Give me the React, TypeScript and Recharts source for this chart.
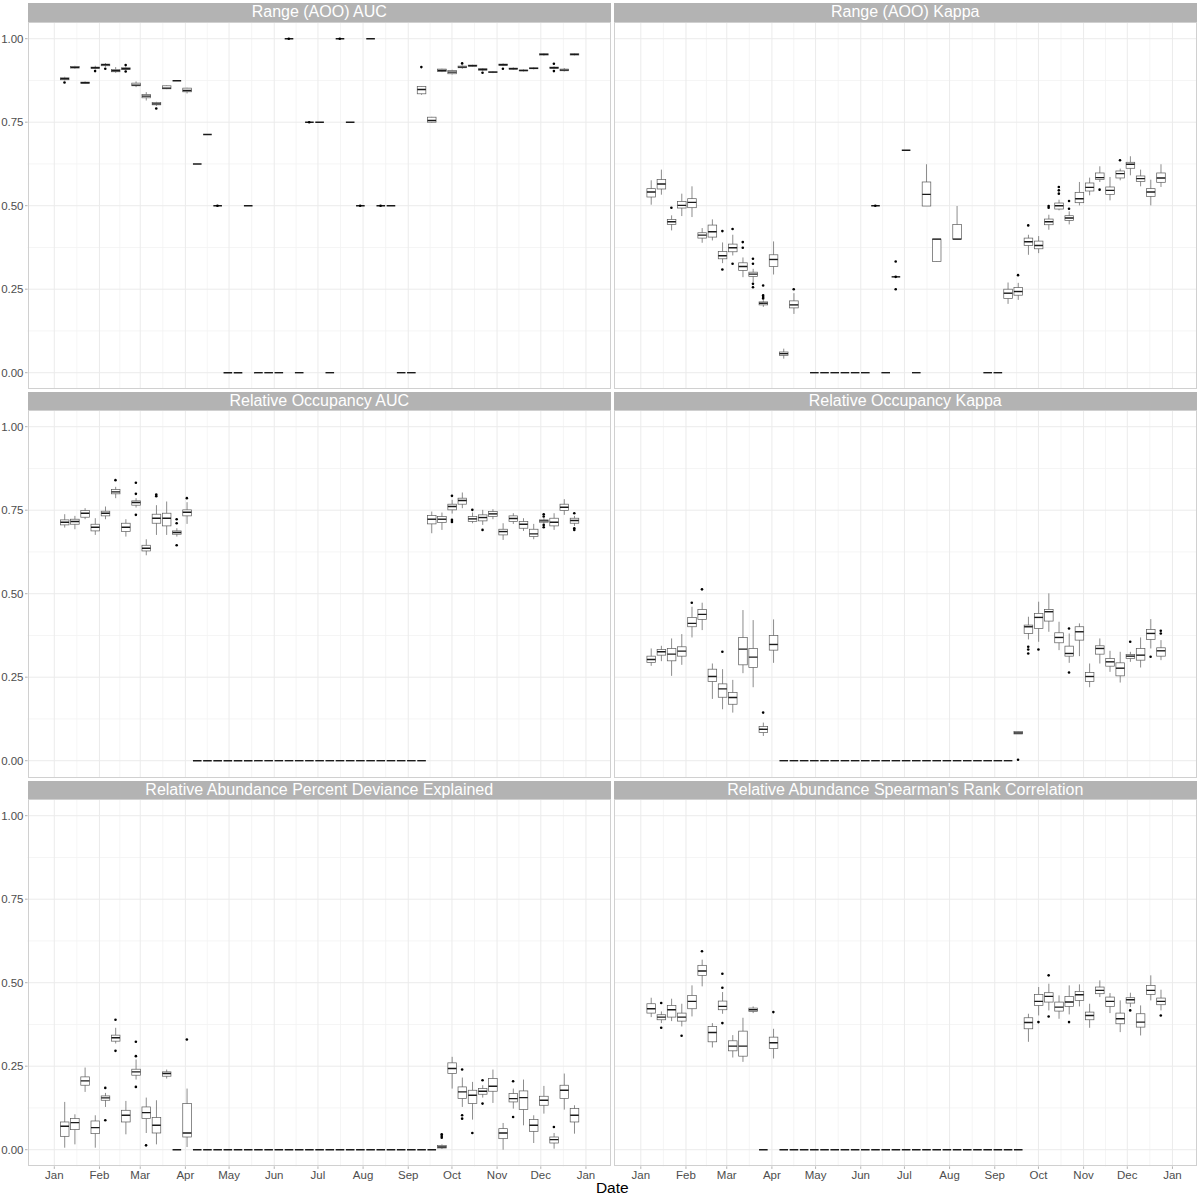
import React from 'react';
import { ComposedChart, Bar, Scatter, XAxis, YAxis, CartesianGrid } from 'recharts';

type Box = [number, number, number, number, number] | null;

// weekly model dates
const WEEKS = [
  '2021-01-08', '2021-01-15', '2021-01-22', '2021-01-29',
  '2021-02-05', '2021-02-12', '2021-02-19', '2021-02-26',
  '2021-03-05', '2021-03-12', '2021-03-19', '2021-03-26',
  '2021-04-02', '2021-04-09', '2021-04-16', '2021-04-23', '2021-04-30',
  '2021-05-07', '2021-05-14', '2021-05-21', '2021-05-28',
  '2021-06-04', '2021-06-11', '2021-06-18', '2021-06-25',
  '2021-07-02', '2021-07-09', '2021-07-16', '2021-07-23', '2021-07-30',
  '2021-08-06', '2021-08-13', '2021-08-20', '2021-08-27',
  '2021-09-03', '2021-09-10', '2021-09-17', '2021-09-24',
  '2021-10-01', '2021-10-08', '2021-10-15', '2021-10-22', '2021-10-29',
  '2021-11-05', '2021-11-12', '2021-11-19', '2021-11-26',
  '2021-12-03', '2021-12-10', '2021-12-17', '2021-12-24',
];

const MONTH_STARTS = [
  '2021-01-01', '2021-02-01', '2021-03-01', '2021-04-01', '2021-05-01', '2021-06-01', '2021-07-01',
  '2021-08-01', '2021-09-01', '2021-10-01', '2021-11-01', '2021-12-01', '2022-01-01',
];
const MONTH_LABELS = ['Jan', 'Feb', 'Mar', 'Apr', 'May', 'Jun', 'Jul', 'Aug', 'Sep', 'Oct', 'Nov', 'Dec', 'Jan'];

const Y_TICKS = [0, 0.25, 0.5, 0.75, 1];
const Y_MINOR = [0.125, 0.375, 0.625, 0.875];

const PANEL_TITLES = [
  'Range (AOO) AUC',
  'Range (AOO) Kappa',
  'Relative Occupancy AUC',
  'Relative Occupancy Kappa',
  'Relative Abundance Percent Deviance Explained',
  "Relative Abundance Spearman's Rank Correlation",
];

const Z: Box = [0, 0, 0, 0, 0];

// [min, q1, median, q3, max] per week
const rangeAucBoxes: Box[] = [
  [0.875, 0.877, 0.880, 0.883, 0.886], [0.910, 0.912, 0.914, 0.917, 0.919], [0.865, 0.866, 0.868, 0.870, 0.872],
  [0.908, 0.911, 0.913, 0.915, 0.919], [0.916, 0.919, 0.922, 0.924, 0.927], [0.898, 0.901, 0.904, 0.908, 0.915],
  [0.905, 0.908, 0.910, 0.913, 0.916], [0.855, 0.859, 0.861, 0.867, 0.872], [0.815, 0.823, 0.828, 0.833, 0.840],
  [0.799, 0.802, 0.805, 0.809, 0.811], [0.849, 0.850, 0.852, 0.859, 0.860], [0.874, 0.874, 0.874, 0.874, 0.874],
  [0.836, 0.841, 0.845, 0.852, 0.853], [0.625, 0.625, 0.625, 0.625, 0.625], [0.713, 0.713, 0.713, 0.713, 0.713],
  [0.5, 0.5, 0.5, 0.5, 0.5], Z, Z, [0.5, 0.5, 0.5, 0.5, 0.5], Z, Z, Z, [1, 1, 1, 1, 1], Z,
  [0.75, 0.75, 0.75, 0.75, 0.75], [0.75, 0.75, 0.75, 0.75, 0.75], Z, [1, 1, 1, 1, 1],
  [0.75, 0.75, 0.75, 0.75, 0.75], [0.5, 0.5, 0.5, 0.5, 0.5], [1, 1, 1, 1, 1], [0.5, 0.5, 0.5, 0.5, 0.5],
  [0.5, 0.5, 0.5, 0.5, 0.5], Z, Z,
  [0.832, 0.835, 0.848, 0.857, 0.857], [0.749, 0.750, 0.755, 0.765, 0.766], [0.900, 0.902, 0.905, 0.909, 0.910],
  [0.893, 0.895, 0.900, 0.905, 0.907], [0.910, 0.913, 0.915, 0.918, 0.920], [0.917, 0.918, 0.919, 0.921, 0.922],
  [0.903, 0.906, 0.908, 0.910, 0.912], [0.897, 0.899, 0.900, 0.901, 0.903], [0.919, 0.920, 0.922, 0.924, 0.926],
  [0.907, 0.909, 0.910, 0.912, 0.914], [0.902, 0.904, 0.905, 0.906, 0.908], [0.908, 0.910, 0.911, 0.913, 0.915],
  [0.949, 0.951, 0.953, 0.955, 0.957], [0.909, 0.911, 0.913, 0.915, 0.917], [0.902, 0.904, 0.906, 0.909, 0.912],
  [0.950, 0.951, 0.953, 0.955, 0.956],
];
const rangeAucOutliers: [number, number][] = [
  [0, 0.869], [3, 0.903], [4, 0.910], [6, 0.921], [6, 0.902], [9, 0.791], [15, 0.5], [22, 1], [24, 0.75],
  [27, 1], [29, 0.5], [31, 0.5], [35, 0.915], [39, 0.926], [41, 0.898], [43, 0.910], [48, 0.925], [48, 0.903],
];

const rangeKappaBoxes: Box[] = [
  [0.503, 0.526, 0.541, 0.551, 0.576], [0.533, 0.550, 0.565, 0.578, 0.608], [0.426, 0.444, 0.452, 0.459, 0.471],
  [0.469, 0.493, 0.501, 0.513, 0.536], [0.466, 0.494, 0.510, 0.521, 0.558], [0.389, 0.403, 0.412, 0.419, 0.433],
  [0.396, 0.406, 0.422, 0.442, 0.459], [0.328, 0.341, 0.350, 0.363, 0.390], [0.351, 0.362, 0.374, 0.385, 0.413],
  [0.286, 0.306, 0.318, 0.329, 0.345], [0.271, 0.288, 0.295, 0.301, 0.311], [0.197, 0.203, 0.208, 0.212, 0.217],
  [0.294, 0.318, 0.339, 0.353, 0.393], [0.042, 0.052, 0.057, 0.062, 0.072], [0.176, 0.194, 0.203, 0.215, 0.238],
  null, Z, Z, Z, Z, Z, Z, [0.5, 0.5, 0.5, 0.5, 0.5], Z, [0.287, 0.287, 0.287, 0.287, 0.287],
  [0.666, 0.666, 0.666, 0.666, 0.666], Z, [0.499, 0.499, 0.534, 0.571, 0.624], [0.333, 0.333, 0.400, 0.400, 0.400],
  null, [0.400, 0.400, 0.400, 0.444, 0.499], null, null, Z, Z,
  [0.206, 0.222, 0.238, 0.250, 0.270], [0.218, 0.232, 0.243, 0.255, 0.269], [0.353, 0.381, 0.392, 0.403, 0.413],
  [0.358, 0.371, 0.381, 0.394, 0.409], [0.428, 0.443, 0.452, 0.460, 0.473], [0.486, 0.490, 0.500, 0.508, 0.518],
  [0.444, 0.456, 0.463, 0.470, 0.483], [0.501, 0.509, 0.521, 0.540, 0.571], [0.531, 0.544, 0.555, 0.568, 0.584],
  [0.571, 0.578, 0.584, 0.598, 0.618], [0.516, 0.534, 0.546, 0.556, 0.586], [0.576, 0.583, 0.596, 0.604, 0.611],
  [0.591, 0.612, 0.624, 0.630, 0.648], [0.558, 0.572, 0.581, 0.589, 0.608], [0.501, 0.528, 0.541, 0.551, 0.578],
  [0.556, 0.570, 0.583, 0.598, 0.624],
];
const rangeKappaOutliers: [number, number][] = [
  [2, 0.494], [7, 0.424], [7, 0.309], [8, 0.430], [8, 0.326], [9, 0.391], [9, 0.374],
  [10, 0.341], [10, 0.326], [10, 0.266], [10, 0.256], [11, 0.261], [11, 0.232], [11, 0.227], [11, 0.222],
  [14, 0.250], [22, 0.5], [24, 0.333], [24, 0.250], [24, 0.287], [36, 0.292], [37, 0.441], [39, 0.499], [39, 0.494],
  [40, 0.556], [40, 0.546], [40, 0.536], [41, 0.514], [41, 0.491], [44, 0.548], [46, 0.636],
];

const occAucBoxes: Box[] = [
  [0.698, 0.706, 0.714, 0.721, 0.738], [0.693, 0.708, 0.716, 0.723, 0.733], [0.723, 0.729, 0.741, 0.749, 0.756],
  [0.676, 0.688, 0.699, 0.708, 0.726], [0.723, 0.733, 0.741, 0.747, 0.761], [0.786, 0.799, 0.805, 0.812, 0.820],
  [0.671, 0.686, 0.699, 0.711, 0.723], [0.758, 0.765, 0.773, 0.778, 0.786], [0.615, 0.628, 0.636, 0.645, 0.663],
  [0.676, 0.711, 0.726, 0.738, 0.765], [0.676, 0.703, 0.726, 0.741, 0.776], [0.671, 0.678, 0.683, 0.688, 0.696],
  [0.709, 0.733, 0.744, 0.751, 0.774],
  Z, Z, Z, Z, Z, Z, Z, Z, Z, Z, Z, Z, Z, Z, Z, Z, Z, Z, Z, Z, Z, Z, Z,
  [0.681, 0.709, 0.723, 0.734, 0.746], [0.691, 0.713, 0.723, 0.731, 0.743], [0.740, 0.751, 0.761, 0.768, 0.781],
  [0.756, 0.768, 0.779, 0.786, 0.803], [0.711, 0.716, 0.724, 0.731, 0.743], [0.706, 0.718, 0.728, 0.736, 0.751],
  [0.723, 0.731, 0.739, 0.746, 0.753], [0.661, 0.676, 0.686, 0.693, 0.711], [0.709, 0.716, 0.725, 0.733, 0.741],
  [0.688, 0.696, 0.708, 0.716, 0.726], [0.663, 0.671, 0.679, 0.693, 0.709], [0.711, 0.714, 0.718, 0.721, 0.726],
  [0.691, 0.703, 0.714, 0.726, 0.741], [0.736, 0.749, 0.759, 0.768, 0.783], [0.703, 0.711, 0.719, 0.726, 0.733],
];
const occAucOutliers: [number, number][] = [
  [5, 0.840], [7, 0.832], [7, 0.799], [7, 0.736], [9, 0.797], [9, 0.792], [11, 0.723], [11, 0.711], [11, 0.645],
  [12, 0.786], [38, 0.793], [38, 0.721], [38, 0.715], [40, 0.751], [41, 0.691],
  [47, 0.738], [47, 0.731], [47, 0.706], [47, 0.699], [50, 0.741], [50, 0.696], [50, 0.691],
];

const occKappaBoxes: Box[] = [
  [0.284, 0.294, 0.303, 0.313, 0.336], [0.298, 0.316, 0.326, 0.333, 0.344], [0.254, 0.299, 0.319, 0.336, 0.366],
  [0.287, 0.313, 0.328, 0.341, 0.379], [0.369, 0.401, 0.411, 0.429, 0.461], [0.391, 0.423, 0.438, 0.453, 0.473],
  [0.185, 0.237, 0.252, 0.274, 0.291], [0.154, 0.190, 0.215, 0.230, 0.274], [0.144, 0.169, 0.189, 0.204, 0.242],
  [0.262, 0.287, 0.334, 0.369, 0.451], [0.220, 0.279, 0.310, 0.336, 0.421], [0.074, 0.084, 0.094, 0.102, 0.114],
  [0.293, 0.331, 0.348, 0.375, 0.423],
  Z, Z, Z, Z, Z, Z, Z, Z, Z, Z, Z, Z, Z, Z, Z, Z, Z, Z, Z, Z, Z, Z, Z,
  [0.080, 0.080, 0.083, 0.087, 0.087], [0.363, 0.381, 0.401, 0.406, 0.431], [0.356, 0.396, 0.429, 0.441, 0.476],
  [0.386, 0.418, 0.446, 0.453, 0.501], [0.331, 0.353, 0.369, 0.383, 0.416], [0.293, 0.313, 0.321, 0.343, 0.381],
  [0.313, 0.361, 0.386, 0.401, 0.411], [0.220, 0.237, 0.252, 0.264, 0.291], [0.291, 0.319, 0.336, 0.344, 0.366],
  [0.266, 0.283, 0.296, 0.306, 0.329], [0.234, 0.254, 0.277, 0.293, 0.326], [0.296, 0.306, 0.313, 0.318, 0.326],
  [0.279, 0.301, 0.316, 0.336, 0.369], [0.336, 0.363, 0.381, 0.393, 0.424], [0.301, 0.313, 0.329, 0.338, 0.361],
];
const occKappaOutliers: [number, number][] = [
  [4, 0.473], [5, 0.513], [7, 0.326], [11, 0.144], [36, 0.003], [37, 0.341], [37, 0.333], [37, 0.321],
  [38, 0.333], [41, 0.396], [41, 0.264], [47, 0.356], [49, 0.311], [50, 0.389], [50, 0.381],
];

const abdDevBoxes: Box[] = [
  [0.006, 0.040, 0.070, 0.083, 0.143], [0.016, 0.060, 0.081, 0.093, 0.106], [0.173, 0.193, 0.206, 0.218, 0.246],
  [0.006, 0.048, 0.066, 0.086, 0.103], [0.128, 0.148, 0.155, 0.161, 0.170], [0.318, 0.325, 0.335, 0.343, 0.365],
  [0.046, 0.083, 0.103, 0.118, 0.146], [0.210, 0.223, 0.233, 0.241, 0.270], [0.050, 0.093, 0.111, 0.128, 0.156],
  [0.016, 0.050, 0.073, 0.096, 0.148], [0.213, 0.220, 0.228, 0.233, 0.240], Z,
  [0.008, 0.038, 0.050, 0.138, 0.183],
  Z, Z, Z, Z, Z, Z, Z, Z, Z, Z, Z, Z, Z, Z, Z, Z, Z, Z, Z, Z, Z, Z, Z, Z,
  [0.002, 0.005, 0.008, 0.013, 0.016], [0.183, 0.228, 0.243, 0.260, 0.278], [0.128, 0.153, 0.173, 0.188, 0.216],
  [0.090, 0.138, 0.163, 0.178, 0.203], [0.156, 0.166, 0.175, 0.183, 0.193], [0.140, 0.175, 0.190, 0.213, 0.240],
  [0.000, 0.033, 0.050, 0.063, 0.080], [0.123, 0.143, 0.153, 0.168, 0.183], [0.073, 0.120, 0.156, 0.176, 0.210],
  [0.020, 0.055, 0.073, 0.090, 0.103], [0.108, 0.133, 0.148, 0.160, 0.191], [0.003, 0.020, 0.030, 0.038, 0.050],
  [0.120, 0.153, 0.178, 0.193, 0.228], [0.048, 0.083, 0.103, 0.123, 0.133],
];
const abdDevOutliers: [number, number][] = [
  [4, 0.185], [4, 0.088], [5, 0.389], [5, 0.296], [7, 0.323], [7, 0.280], [7, 0.188], [8, 0.013], [12, 0.330],
  [37, 0.046], [37, 0.041], [37, 0.036], [39, 0.240], [39, 0.103], [39, 0.093], [40, 0.050], [41, 0.208],
  [41, 0.138], [44, 0.205], [44, 0.098], [48, 0.068],
];

const abdCorBoxes: Box[] = [
  [0.397, 0.409, 0.422, 0.437, 0.455], [0.379, 0.389, 0.397, 0.404, 0.414], [0.385, 0.397, 0.419, 0.432, 0.452],
  [0.369, 0.385, 0.397, 0.409, 0.437], [0.399, 0.422, 0.444, 0.462, 0.492], [0.489, 0.522, 0.535, 0.552, 0.569],
  [0.306, 0.323, 0.351, 0.369, 0.379], [0.407, 0.419, 0.429, 0.445, 0.472], [0.276, 0.296, 0.310, 0.326, 0.343],
  [0.263, 0.280, 0.310, 0.355, 0.395], [0.409, 0.414, 0.419, 0.424, 0.429], Z,
  [0.273, 0.303, 0.320, 0.337, 0.362],
  Z, Z, Z, Z, Z, Z, Z, Z, Z, Z, Z, Z, Z, Z, Z, Z, Z, Z, Z, Z, Z, Z, Z, Z,
  [0.323, 0.362, 0.381, 0.395, 0.407], [0.402, 0.432, 0.444, 0.465, 0.487], [0.417, 0.442, 0.459, 0.470, 0.497],
  [0.392, 0.415, 0.427, 0.442, 0.462], [0.405, 0.429, 0.442, 0.459, 0.492], [0.429, 0.447, 0.464, 0.474, 0.495],
  [0.365, 0.389, 0.402, 0.412, 0.437], [0.457, 0.467, 0.477, 0.487, 0.507], [0.409, 0.429, 0.444, 0.457, 0.469],
  [0.352, 0.377, 0.392, 0.409, 0.447], [0.427, 0.439, 0.449, 0.455, 0.470], [0.342, 0.367, 0.382, 0.407, 0.432],
  [0.447, 0.465, 0.477, 0.492, 0.522], [0.417, 0.434, 0.444, 0.454, 0.479],
];
const abdCorOutliers: [number, number][] = [
  [1, 0.439], [1, 0.365], [3, 0.341], [5, 0.594], [7, 0.527], [7, 0.485], [7, 0.379], [12, 0.412],
  [38, 0.382], [39, 0.522], [39, 0.399], [41, 0.382], [47, 0.417], [50, 0.402],
];

const PANEL_BOXES = [rangeAucBoxes, rangeKappaBoxes, occAucBoxes, occKappaBoxes, abdDevBoxes, abdCorBoxes];
const PANEL_OUTLIERS = [rangeAucOutliers, rangeKappaOutliers, occAucOutliers, occKappaOutliers, abdDevOutliers, abdCorOutliers];

// layout
const FONT = '"Liberation Sans", Arial, Helvetica, sans-serif';
const PANEL_LEFT = [27.5, 613.5];
const PANEL_W = 583.5;
const PLOT_TOP = [21.6, 410.2, 798.8];
const PLOT_H = 367.4;
const STRIP_H = 18.3;
const Y_AXIS_W = 27.5;
const X_AXIS_H = 20;
const BOX_W = 8.6;
const X_DOMAIN = [-18.4, 382.2];
const Y_DOMAIN = [-0.05, 1.05];

const dayOf = (iso: string) => (Date.parse(iso) - Date.parse('2021-01-01')) / 86400000;
const MAJOR_X = MONTH_STARTS.map(dayOf);
const MINOR_X = MAJOR_X.slice(1).map((d, i) => (d + MAJOR_X[i]) / 2);

const buildRows = (boxes: Box[]) =>
  boxes
    .map((b, i) => (b ? { x: dayOf(WEEKS[i]), whisker: [b[0], b[4]], box: [b[1], b[3]], median: [b[2], b[2]] } : null))
    .filter(Boolean);

const WhiskerShape = (p: any) => {
  if (!Number.isFinite(p.y)) return <g />;
  const cx = p.x + p.width / 2;
  return <line x1={cx} x2={cx} y1={p.y} y2={p.y + p.height} stroke="#5a5a5a" strokeWidth={0.7} />;
};

const BoxShape = (p: any) => {
  if (!Number.isFinite(p.y)) return <g />;
  return <rect x={p.x} y={p.y} width={p.width} height={Math.max(p.height, 0)} fill="#ffffff" stroke="#5a5a5a" strokeWidth={0.7} />;
};

const MedianShape = (p: any) => {
  if (!Number.isFinite(p.y)) return <g />;
  return <line x1={p.x} x2={p.x + p.width} y1={p.y} y2={p.y} stroke="#1a1a1a" strokeWidth={1.4} />;
};

const OutlierShape = (p: any) => {
  if (!Number.isFinite(p.cy)) return <g />;
  return <circle cx={p.cx} cy={p.cy} r={1.3} fill="#000000" />;
};

const tickStyle = { fontSize: 11.5, fill: '#4D4D4D', fontFamily: FONT };

function Panel({ index }: { index: number }) {
  const col = index % 2;
  const row = Math.floor(index / 2);
  const showY = col === 0;
  const showX = row === 2;
  const left = PANEL_LEFT[col];
  const top = PLOT_TOP[row];
  const rows = buildRows(PANEL_BOXES[index]);
  const points = PANEL_OUTLIERS[index].map(([i, v]) => ({ x: dayOf(WEEKS[i]), v }));
  const width = PANEL_W + (showY ? Y_AXIS_W : 0);
  const height = PLOT_H + (showX ? X_AXIS_H : 0);

  return (
    <>
      <div
        style={{
          position: 'absolute', left, top: top - STRIP_H, width: PANEL_W, height: STRIP_H,
          background: '#B3B3B3', color: '#ffffff', fontSize: 16, lineHeight: `${STRIP_H}px`,
          textAlign: 'center', fontFamily: FONT, whiteSpace: 'nowrap',
        }}
      >
        {PANEL_TITLES[index]}
      </div>
      <div style={{ position: 'absolute', left: left - (showY ? Y_AXIS_W : 0), top }}>
        <ComposedChart width={width} height={height} data={rows} margin={{ top: 0, right: 0, bottom: 0, left: 0 }}>
          <CartesianGrid xAxisId="w" stroke="#F3F3F3" strokeWidth={0.8} horizontalValues={Y_MINOR} verticalValues={MINOR_X} />
          <CartesianGrid xAxisId="w" stroke="#EBEBEB" strokeWidth={1} horizontalValues={Y_TICKS} verticalValues={MAJOR_X} />
          <XAxis
            xAxisId="w" type="number" dataKey="x" domain={X_DOMAIN} allowDataOverflow ticks={MAJOR_X}
            tickFormatter={(v: number) => MONTH_LABELS[MAJOR_X.indexOf(v)] ?? ''} interval={0}
            hide={!showX} height={showX ? X_AXIS_H : 0} axisLine={false} tickSize={2.5} tickMargin={2}
            tickLine={{ stroke: '#B3B3B3' }} tick={tickStyle}
          />
          <XAxis xAxisId="b" type="number" dataKey="x" domain={X_DOMAIN} allowDataOverflow hide height={0} />
          <XAxis xAxisId="m" type="number" dataKey="x" domain={X_DOMAIN} allowDataOverflow hide height={0} />
          <YAxis
            type="number" domain={Y_DOMAIN} allowDataOverflow ticks={Y_TICKS} interval={0}
            tickFormatter={(v: number) => v.toFixed(2)} hide={!showY} width={showY ? Y_AXIS_W : 0}
            axisLine={false} tickSize={2.5} tickMargin={1.5} tickLine={{ stroke: '#B3B3B3' }} tick={tickStyle}
          />
          <Bar xAxisId="w" dataKey="whisker" barSize={BOX_W} shape={WhiskerShape} isAnimationActive={false} />
          <Bar xAxisId="b" dataKey="box" barSize={BOX_W} shape={BoxShape} isAnimationActive={false} />
          <Bar xAxisId="m" dataKey="median" barSize={BOX_W} shape={MedianShape} isAnimationActive={false} />
          <Scatter xAxisId="w" data={points} dataKey="v" shape={OutlierShape} isAnimationActive={false} />
        </ComposedChart>
      </div>
      <div
        style={{
          position: 'absolute', left, top, width: PANEL_W, height: PLOT_H,
          boxSizing: 'border-box', border: '1px solid #D0D0D0', pointerEvents: 'none',
        }}
      />
    </>
  );
}

export default function App() {
  return (
    <div style={{ position: 'absolute', left: 0, top: 0, width: 1200, height: 1200, background: '#ffffff', fontFamily: FONT }}>
      {PANEL_TITLES.map((_, i) => (
        <Panel key={i} index={i} />
      ))}
      <div
        style={{
          position: 'absolute', left: PANEL_LEFT[0], width: PANEL_LEFT[1] + PANEL_W - PANEL_LEFT[0],
          top: 1179, textAlign: 'center', fontSize: 15.5, color: '#000000', fontFamily: FONT,
        }}
      >
        Date
      </div>
    </div>
  );
}
